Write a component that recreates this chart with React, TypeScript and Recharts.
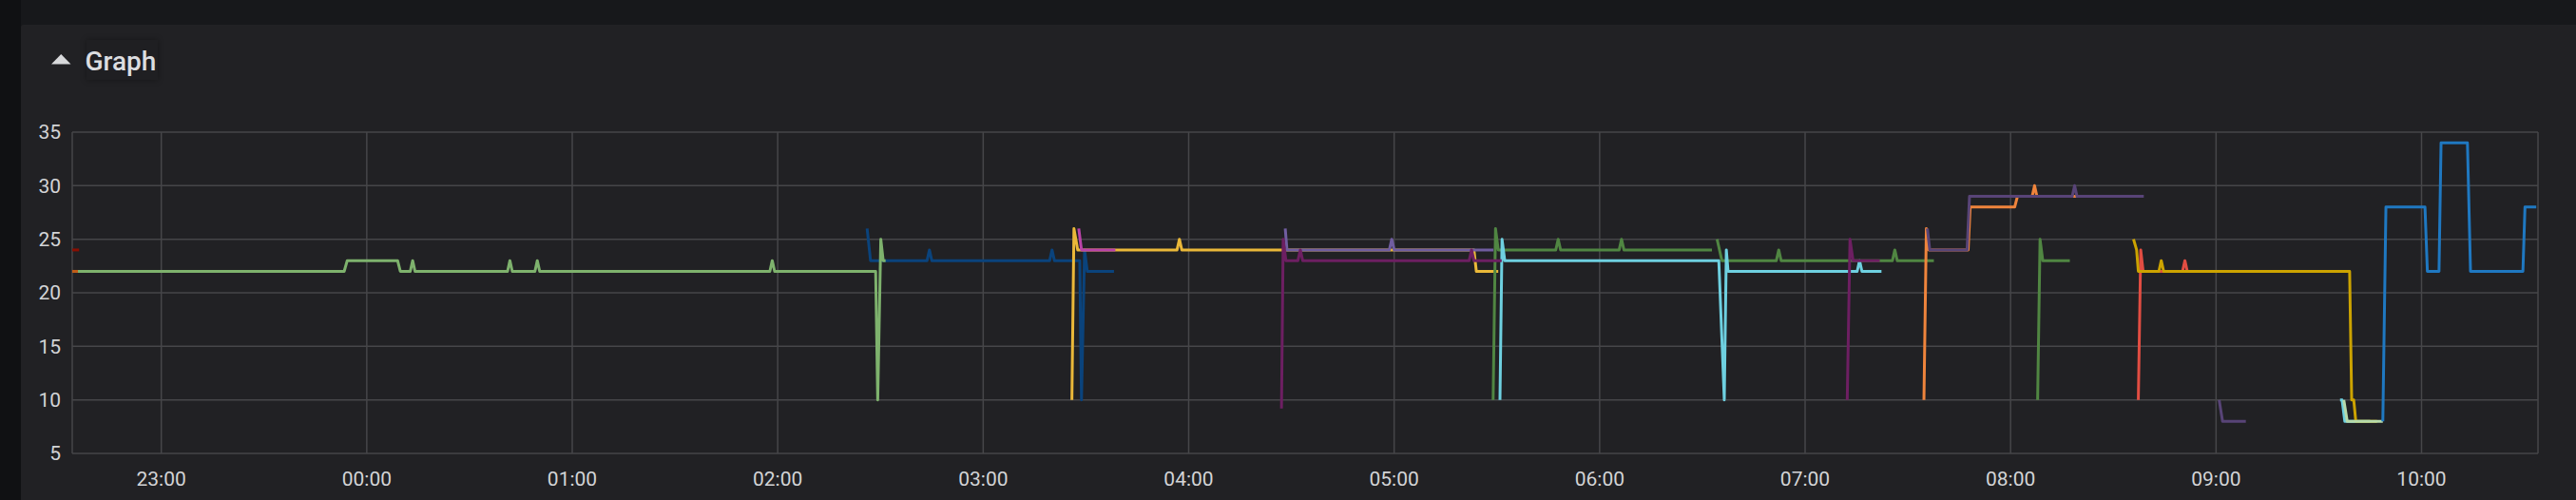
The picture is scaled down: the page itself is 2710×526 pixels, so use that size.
import React from "react";
import { LineChart, Line, XAxis, YAxis, CartesianGrid } from "recharts";

type Pt = [string, number | null];

// hour ticks on the time axis and the value ticks
const hourTicks = ["23:00", "00:00", "01:00", "02:00", "03:00", "04:00", "05:00", "06:00", "07:00", "08:00", "09:00", "10:00"];
const valueTicks = [5, 10, 15, 20, 25, 30, 35];
const rangeStart = "22:34:00";
const rangeEnd = "10:34:00";

const tickDarkRed: Pt[] = [["22:34:00", 24], ["22:36:00", 24]];
const tickOrange: Pt[] = [["22:34:00", 22], ["22:35:40", 22]];

const green: Pt[] = [
  ["22:34:00", 22], ["23:53:24", 22], ["23:54:18", 23], ["00:09:00", 23], ["00:09:48", 22],
  ["00:12:42", 22], ["00:13:24", 23], ["00:14:06", 22], ["00:41:06", 22], ["00:41:48", 23],
  ["00:42:30", 22], ["00:49:06", 22], ["00:49:48", 23], ["00:50:30", 22], ["01:57:42", 22],
  ["01:58:24", 23], ["01:59:06", 22], ["02:28:36", 22], ["02:29:12", 10], ["02:30:06", 25],
  ["02:30:48", 23], ["02:31:30", 23]
];

const darkBlue: Pt[] = [
  ["02:26:06", 26], ["02:27:06", 23], ["02:43:36", 23], ["02:44:18", 24], ["02:45:00", 23],
  ["03:19:24", 23], ["03:20:06", 24], ["03:20:48", 23], ["03:28:12", 23], ["03:28:42", 10],
  ["03:29:36", 24], ["03:30:24", 22], ["03:38:12", 22]
];

const yellow: Pt[] = [
  ["03:25:54", 10], ["03:26:30", 26], ["03:27:36", 24], ["03:56:36", 24], ["03:57:18", 25],
  ["03:58:00", 24], ["05:23:18", 24], ["05:24:00", 22], ["05:30:24", 22]
];

const pink: Pt[] = [["03:27:54", 26], ["03:28:42", 24], ["03:38:36", 24]];

const purple: Pt[] = [
  ["04:28:12", 26], ["04:28:42", 24], ["04:58:36", 24], ["04:59:18", 25], ["05:00:00", 24],
  ["05:29:00", 24]
];

const darkGreen: Pt[] = [
  ["05:28:54", 10], ["05:29:36", 26], ["05:30:24", 24], ["05:47:12", 24], ["05:47:54", 25],
  ["05:48:36", 24], ["06:05:42", 24], ["06:06:24", 25], ["06:07:06", 24], ["06:32:48", 24],
  ["06:33:30", null], ["06:34:18", 25], ["06:35:42", 23], ["06:51:36", 23], ["06:52:18", 24],
  ["06:53:00", 23], ["07:25:30", 23], ["07:26:12", 24], ["07:26:54", 23], ["07:37:36", 23],
  ["08:00:00", null], ["08:07:54", 10], ["08:08:36", 25], ["08:09:24", 23], ["08:17:18", 23]
];

const lightBlue: Pt[] = [
  ["05:30:54", 10], ["05:31:30", 25], ["05:32:18", 23], ["06:34:48", 23], ["06:36:24", 10],
  ["06:37:00", 24], ["06:37:30", 22], ["07:15:12", 22], ["07:15:54", 23], ["07:16:36", 22],
  ["07:22:18", 22], ["08:00:00", null], ["09:36:12", 10], ["09:36:48", 10], ["09:37:36", 8],
  ["09:45:00", 8]
];

const darkPurple: Pt[] = [
  ["04:27:06", 9.2], ["04:27:36", 25], ["04:28:24", 23], ["04:31:54", 23], ["04:32:36", 24],
  ["04:33:18", 23], ["05:21:54", 23], ["05:22:36", 24], ["05:23:18", 23], ["05:31:24", 23],
  ["06:00:00", null], ["07:12:18", 10], ["07:13:06", 25], ["07:14:00", 23], ["07:21:48", 23]
];

const orange: Pt[] = [
  ["07:34:42", 10], ["07:35:24", 26], ["07:36:06", 24], ["07:47:36", 24], ["07:48:12", 28],
  ["08:01:12", 28], ["08:02:00", 29], ["08:06:18", 29], ["08:07:00", 30], ["08:07:42", 29],
  ["08:24:00", 29]
];

const greyPurple: Pt[] = [
  ["07:35:42", 26], ["07:36:24", 24], ["07:47:18", 24], ["07:48:00", 29], ["08:18:00", 29],
  ["08:18:42", 30], ["08:19:24", 29], ["08:38:54", 29], ["08:50:00", null], ["09:00:54", 10],
  ["09:01:54", 8], ["09:08:42", 8]
];

const red: Pt[] = [
  ["08:37:18", 10], ["08:38:00", 24], ["08:38:42", 22], ["08:50:12", 22], ["08:50:54", 23],
  ["08:51:36", 22], ["08:59:48", 22]
];

const gold: Pt[] = [
  ["08:35:54", 25], ["08:36:48", 24], ["08:37:18", 22], ["08:43:18", 22], ["08:44:00", 23],
  ["08:44:42", 22], ["09:39:00", 22], ["09:39:36", 10], ["09:40:12", 10], ["09:40:48", 8],
  ["09:47:00", 8]
];

const lightGreen: Pt[] = [["09:37:18", 10], ["09:38:18", 8], ["09:48:42", 8]];

const blue: Pt[] = [
  ["09:48:42", 8], ["09:49:36", 28], ["10:01:00", 28], ["10:01:42", 22], ["10:05:06", 22],
  ["10:05:42", 34], ["10:13:24", 34], ["10:14:18", 22], ["10:29:36", 22], ["10:30:12", 28],
  ["10:33:30", 28]
];

// minutes since midnight of the first day; morning hours belong to the next day
function toMin(clock: string) {
  const [h, m, s] = clock.split(":").map(Number);
  const base = h * 60 + m + (s || 0) / 60;
  return h < 12 ? base + 1440 : base;
}

function rows(pts: Pt[]) {
  return pts.map(([c, v]) => ({ t: toMin(c), v }));
}

function fmtHour(m: number) {
  const h = Math.floor(m / 60) % 24;
  return (h < 10 ? "0" : "") + h + ":00";
}

const series = [
  { name: "darkBlue", pts: darkBlue, color: "#0A437C" },
  { name: "green", pts: green, color: "#7EB26D" },
  { name: "tickDarkRed", pts: tickDarkRed, color: "#890F02" },
  { name: "tickOrange", pts: tickOrange, color: "#C15C17" },
  { name: "yellow", pts: yellow, color: "#EAB839" },
  { name: "pink", pts: pink, color: "#BA43A9" },
  { name: "purple", pts: purple, color: "#705DA0" },
  { name: "darkGreen", pts: darkGreen, color: "#508642" },
  { name: "lightBlue", pts: lightBlue, color: "#6ED0E0" },
  { name: "darkPurple", pts: darkPurple, color: "#6D1F62" },
  { name: "orange", pts: orange, color: "#EF843C" },
  { name: "greyPurple", pts: greyPurple, color: "#584477" },
  { name: "red", pts: red, color: "#E24D42" },
  { name: "gold", pts: gold, color: "#CCA300" },
  { name: "lightGreen", pts: lightGreen, color: "#B7DBAB" },
  { name: "blue", pts: blue, color: "#1F78C1" }
];

const axisText = { fill: "#d3d4d6", fontSize: 21, fontFamily: "Roboto" };

export default function App() {
  return (
    <div style={{ position: "absolute", left: 0, top: 0, width: 2710, height: 526, background: "#17181b", overflow: "hidden" }}>
      <div style={{ position: "absolute", left: 0, top: 0, width: 22, height: 526, background: "#101113" }} />
      <div style={{ position: "absolute", left: 22, top: 26, width: 2700, height: 520, background: "#212124", borderRadius: 3 }} />
      <div style={{ position: "absolute", left: 91, top: 42, width: 75, height: 42, background: "#1f1f22", boxShadow: "0 0 6px rgba(0,0,0,0.35)" }} />
      <svg width={2710} height={526} style={{ position: "absolute", left: 0, top: 0 }}>
        <polygon points="54,67.5 74.5,67.5 64.25,57" fill="#d8d9db" />
        <text x={89.5} y={73.5} fontSize={28} fontWeight={500} fontFamily="Roboto" fill="#dcdde0">
          Graph
        </text>
      </svg>
      <div style={{ position: "absolute", left: 0, top: 0 }}>
        <LineChart width={2710} height={526} margin={{ top: 139, right: 40, bottom: 0, left: 16 }}>
          <CartesianGrid stroke="#464649" strokeWidth={1.5} />
          <XAxis
            type="number"
            dataKey="t"
            domain={[toMin(rangeStart), toMin(rangeEnd)]}
            ticks={hourTicks.map((h) => toMin(h + ":00"))}
            tickFormatter={fmtHour}
            allowDataOverflow
            height={49}
            axisLine={false}
            tickLine={false}
            tickSize={0}
            tickMargin={19}
            tick={axisText}
            interval={0}
          />
          <YAxis
            type="number"
            domain={[5, 35]}
            ticks={valueTicks}
            allowDataOverflow
            width={60}
            axisLine={false}
            tickLine={false}
            tickSize={0}
            tickMargin={12}
            tick={axisText}
            interval={0}
          />
          {series.map((s) => (
            <Line
              key={s.name}
              name={s.name}
              data={rows(s.pts)}
              dataKey="v"
              type="linear"
              stroke={s.color}
              strokeWidth={3}
              strokeLinejoin="round"
              dot={false}
              activeDot={false}
              connectNulls={false}
              isAnimationActive={false}
            />
          ))}
        </LineChart>
      </div>
    </div>
  );
}
